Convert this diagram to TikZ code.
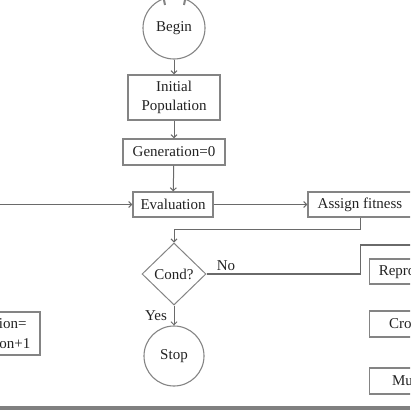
\documentclass[tikz,border=0pt]{standalone}
\usepackage{fontspec}
\setmainfont{Liberation Serif}
\usetikzlibrary{shapes.geometric,arrows.meta}
\definecolor{boxline}{HTML}{848484}
\definecolor{conline}{HTML}{6A6A6A}
\definecolor{txt}{HTML}{222222}
\definecolor{barcol}{HTML}{808080}
\begin{document}
\begin{tikzpicture}[x=1pt,y=-1pt,
  every node/.style={font=\fontsize{15}{19.5}\selectfont, text=txt},
  box/.style={draw=boxline, line width=1.2pt, rectangle, inner sep=0pt, align=center},
  roundnode/.style={draw=boxline, line width=1.1pt, circle, inner sep=0pt},
  decision/.style={draw=boxline, line width=1pt, diamond, aspect=1, inner sep=0pt},
  conn/.style={draw=conline, line width=1pt, -{Straight Barb[length=3pt,width=6pt]}},
  plainconn/.style={draw=conline, line width=1.2pt},
  lbl/.style={inner sep=0pt}]
\useasboundingbox (0,0) rectangle (410,410);
\begin{scope}
\clip (0,0) rectangle (410,406);
\node[roundnode, minimum size=62pt] (begin) at (174,28) {Begin};
\node[box, minimum width=92pt, minimum height=45pt] (init) at (174,97.5) {Initial\\Population};
\node[box, minimum width=102pt, minimum height=26pt] (gen0) at (174,152) {Generation=0};
\node[box, minimum width=80pt, minimum height=25pt] (eval) at (173,204.5) {Evaluation};
\node[box, minimum width=104pt, minimum height=25pt] (assign) at (360,204.5) {Assign fitness};
\node[decision, minimum width=64pt, minimum height=62pt] (cond) at (174,274) {Cond?};
\node[roundnode, minimum size=60pt] (stop) at (174,356) {Stop};
\node[box, anchor=west, minimum width=100pt, minimum height=25pt] (repr) at (369,271.5) {Reproduction};
\node[box, anchor=west, minimum width=100pt, minimum height=26pt] (cross) at (369,324) {Crossover};
\node[box, anchor=west, minimum width=100pt, minimum height=26pt] (mut) at (369,381) {Mutation};
\node[box, minimum width=102pt, minimum height=43pt] (gplus) at (-11,333.5) {Generation=\\Generation+1};
\coordinate (nofar) at (440,245);
% top marks above Begin
\draw[boxline, line width=2pt] (164,0) -- (165,5) (185,0) -- (184,5);
% connectors
\draw[conn] (begin) -- (init);
\draw[conn] (init) -- (gen0);
\draw[conn] (gen0) -- (eval);
\draw[conn] (gplus.north) |- (eval.west);
\draw[conn] (eval) -- (assign);
\draw[conn] (assign.south) -- ++(0,12) -| (cond.north);
\draw[plainconn] (cond.east) -- ++(154,0) |- (nofar);
\draw[conn] (cond.south) -- (stop.north);
\node[lbl] (no) at (226,266) {No};
\node[lbl] (yes) at (156,316) {Yes};
\end{scope}
\fill[barcol] (0,406) rectangle (410,410);
\end{tikzpicture}
\end{document}
